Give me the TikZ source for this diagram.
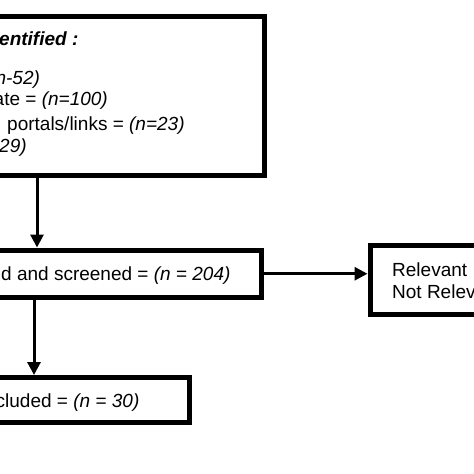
\documentclass[tikz,border=0pt]{standalone}
\usepackage{fontspec}
\setmainfont{Liberation Sans}
\usetikzlibrary{arrows.meta,fit}
\begin{document}
\begin{tikzpicture}[x=1pt,y=-1pt,
  box/.style={draw=black, line width=5pt, inner sep=0pt, fill=white},
  arr/.style={line width=3pt, -{Triangle[length=13pt,width=13pt]}},
  txt/.style={anchor=base west, inner sep=0pt, font=\fontsize{19}{22}\selectfont}]
\useasboundingbox (0,0) rectangle (474,474);
\clip (0,0) rectangle (474,474);
\fill[white] (0,0) rectangle (474,474);
% boxes
\node[box, fit={(-150,16.5) (264.5,175)}] (top) {};
\node[box, fit={(-150,250) (261.5,297.5)}] (mid) {};
\node[box, fit={(-150,377.5) (189.5,422)}] (bot) {};
\node[box, fit={(370,245.5) (600,314)}] (rel) {};
% texts
\node[txt] (t1) at (-1,45) {\bfseries\itshape entified :};
\node[txt] (t2) at (-4.6,84) {\itshape n-52)};
\node[txt] (t3) at (-6.5,105) {ate = \textit{(n=100)}};
\node[txt] (t4) at (7,130.5) {portals/links = \textit{(n=23)}};
\node[txt] (t5) at (-1,152.5) {\itshape 29)};
\node[txt] (m1) at (1,280) {d and screened = \textit{(n = 204)}};
\node[txt] (b1) at (-4.5,407) {cluded = \textit{(n = 30)}};
\node[txt] (r1) at (392,276) {Relevant};
\node[txt] (r2) at (392,298) {Not Relev};
% connectors
\coordinate (c1) at (37,0);
\coordinate (c2) at (34,0);
\draw[arr] (top.south -| c1) -- (mid.north -| c1);
\draw[arr] (mid.south -| c2) -- (bot.north -| c2);
\draw[arr] (mid.east) -- (rel.west |- mid.east);
\end{tikzpicture}
\end{document}
